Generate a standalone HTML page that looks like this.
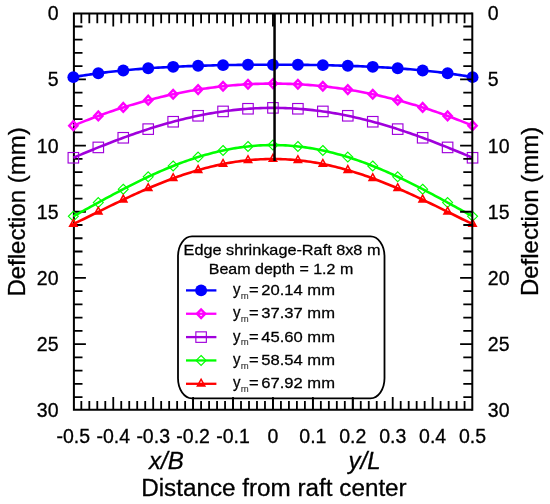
<!DOCTYPE html>
<html><head><meta charset="utf-8"><title>Deflection chart</title>
<style>html,body{margin:0;padding:0;background:#fff}body{width:550px;height:504px;position:relative;overflow:hidden}</style>
</head><body>
<svg width="550" height="504" viewBox="0 0 550 504" style="position:absolute;left:0;top:0">
<rect width="550" height="504" fill="#fff"/>
<path d="M81.33 13.40v9.8M81.33 409.80v-8.9M89.32 13.40v9.8M89.32 409.80v-8.9M97.30 13.40v9.8M97.30 409.80v-8.9M105.29 13.40v9.8M105.29 409.80v-8.9M113.27 13.40v13.0M113.27 409.80v-12.8M121.25 13.40v9.8M121.25 409.80v-8.9M129.24 13.40v9.8M129.24 409.80v-8.9M137.22 13.40v9.8M137.22 409.80v-8.9M145.21 13.40v9.8M145.21 409.80v-8.9M153.19 13.40v13.0M153.19 409.80v-12.8M161.17 13.40v9.8M161.17 409.80v-8.9M169.16 13.40v9.8M169.16 409.80v-8.9M177.14 13.40v9.8M177.14 409.80v-8.9M185.13 13.40v9.8M185.13 409.80v-8.9M193.11 13.40v13.0M193.11 409.80v-12.8M201.09 13.40v9.8M201.09 409.80v-8.9M209.08 13.40v9.8M209.08 409.80v-8.9M217.06 13.40v9.8M217.06 409.80v-8.9M225.05 13.40v9.8M225.05 409.80v-8.9M233.03 13.40v13.0M233.03 409.80v-12.8M241.01 13.40v9.8M241.01 409.80v-8.9M249.00 13.40v9.8M249.00 409.80v-8.9M256.98 13.40v9.8M256.98 409.80v-8.9M264.97 13.40v9.8M264.97 409.80v-8.9M272.95 13.40v13.0M272.95 409.80v-12.8M280.93 13.40v9.8M280.93 409.80v-8.9M288.92 13.40v9.8M288.92 409.80v-8.9M296.90 13.40v9.8M296.90 409.80v-8.9M304.89 13.40v9.8M304.89 409.80v-8.9M312.87 13.40v13.0M312.87 409.80v-12.8M320.85 13.40v9.8M320.85 409.80v-8.9M328.84 13.40v9.8M328.84 409.80v-8.9M336.82 13.40v9.8M336.82 409.80v-8.9M344.81 13.40v9.8M344.81 409.80v-8.9M352.79 13.40v13.0M352.79 409.80v-12.8M360.77 13.40v9.8M360.77 409.80v-8.9M368.76 13.40v9.8M368.76 409.80v-8.9M376.74 13.40v9.8M376.74 409.80v-8.9M384.73 13.40v9.8M384.73 409.80v-8.9M392.71 13.40v13.0M392.71 409.80v-12.8M400.69 13.40v9.8M400.69 409.80v-8.9M408.68 13.40v9.8M408.68 409.80v-8.9M416.66 13.40v9.8M416.66 409.80v-8.9M424.65 13.40v9.8M424.65 409.80v-8.9M432.63 13.40v13.0M432.63 409.80v-12.8M440.61 13.40v9.8M440.61 409.80v-8.9M448.60 13.40v9.8M448.60 409.80v-8.9M456.58 13.40v9.8M456.58 409.80v-8.9M464.57 13.40v9.8M464.57 409.80v-8.9M73.90 26.48h8.6M73.90 39.72h8.6M73.90 52.95h8.6M73.90 66.19h8.6M73.90 79.42h12.0M73.90 92.66h8.6M73.90 105.89h8.6M73.90 119.13h8.6M73.90 132.37h8.6M73.90 145.60h12.0M73.90 158.83h8.6M73.90 172.07h8.6M73.90 185.31h8.6M73.90 198.54h8.6M73.90 211.77h12.0M73.90 225.01h8.6M73.90 238.25h8.6M73.90 251.48h8.6M73.90 264.71h8.6M73.90 277.95h12.0M73.90 291.19h8.6M73.90 304.42h8.6M73.90 317.65h8.6M73.90 330.89h8.6M73.90 344.12h12.0M73.90 357.36h8.6M73.90 370.59h8.6M73.90 383.83h8.6M73.90 397.06h8.6" stroke="#000" stroke-width="1.8" fill="none"/>
<path d="M472.30 13.40H73.90V409.80H472.30" fill="none" stroke="#000" stroke-width="2"/>
<polyline points="73.35,77.16 75.84,76.73 78.34,76.30 80.83,75.89 83.33,75.49 85.82,75.10 88.32,74.72 90.81,74.35 93.31,73.99 95.81,73.64 98.30,73.31 100.79,72.98 103.29,72.66 105.78,72.35 108.28,72.05 110.78,71.76 113.27,71.47 115.76,71.20 118.26,70.93 120.75,70.68 123.25,70.43 125.74,70.18 128.24,69.95 130.74,69.72 133.23,69.50 135.72,69.29 138.22,69.08 140.72,68.88 143.21,68.69 145.70,68.50 148.20,68.32 150.69,68.15 153.19,67.98 155.69,67.82 158.18,67.66 160.68,67.51 163.17,67.37 165.66,67.22 168.16,67.09 170.66,66.96 173.15,66.83 175.65,66.71 178.14,66.59 180.63,66.48 183.13,66.37 185.62,66.27 188.12,66.17 190.62,66.08 193.11,65.98 195.61,65.90 198.10,65.81 200.59,65.73 203.09,65.66 205.59,65.58 208.08,65.51 210.57,65.45 213.07,65.38 215.56,65.32 218.06,65.27 220.56,65.21 223.05,65.16 225.55,65.11 228.04,65.07 230.54,65.03 233.03,64.99 235.52,64.95 238.02,64.91 240.51,64.88 243.01,64.85 245.50,64.83 248.00,64.80 250.50,64.78 252.99,64.76 255.49,64.74 257.98,64.73 260.47,64.72 262.97,64.71 265.46,64.70 267.96,64.69 270.45,64.69 272.95,64.69 275.44,64.69 277.94,64.69 280.44,64.70 282.93,64.71 285.43,64.72 287.92,64.73 290.42,64.74 292.91,64.76 295.40,64.78 297.90,64.80 300.39,64.83 302.89,64.85 305.38,64.88 307.88,64.91 310.38,64.95 312.87,64.99 315.37,65.03 317.86,65.07 320.36,65.11 322.85,65.16 325.35,65.21 327.84,65.27 330.34,65.32 332.83,65.38 335.32,65.45 337.82,65.51 340.31,65.58 342.81,65.66 345.31,65.73 347.80,65.81 350.30,65.90 352.79,65.98 355.29,66.08 357.78,66.17 360.27,66.27 362.77,66.37 365.26,66.48 367.76,66.59 370.25,66.71 372.75,66.83 375.25,66.96 377.74,67.09 380.24,67.22 382.73,67.37 385.22,67.51 387.72,67.66 390.22,67.82 392.71,67.98 395.20,68.15 397.70,68.32 400.20,68.50 402.69,68.69 405.19,68.88 407.68,69.08 410.17,69.29 412.67,69.50 415.17,69.72 417.66,69.95 420.15,70.18 422.65,70.43 425.14,70.68 427.64,70.93 430.13,71.20 432.63,71.47 435.12,71.76 437.62,72.05 440.12,72.35 442.61,72.66 445.11,72.98 447.60,73.31 450.10,73.64 452.59,73.99 455.09,74.35 457.58,74.72 460.07,75.10 462.57,75.49 465.06,75.89 467.56,76.30 470.05,76.73 472.55,77.16" fill="none" stroke="#0000ff" stroke-width="2.6"/>
<polyline points="73.35,125.66 75.84,124.64 78.34,123.62 80.83,122.62 83.33,121.62 85.82,120.64 88.32,119.68 90.81,118.72 93.31,117.78 95.81,116.85 98.30,115.93 100.79,115.02 103.29,114.13 105.78,113.25 108.28,112.38 110.78,111.52 113.27,110.68 115.76,109.84 118.26,109.03 120.75,108.22 123.25,107.43 125.74,106.64 128.24,105.88 130.74,105.12 133.23,104.38 135.72,103.65 138.22,102.93 140.72,102.23 143.21,101.53 145.70,100.85 148.20,100.19 150.69,99.53 153.19,98.89 155.69,98.27 158.18,97.65 160.68,97.05 163.17,96.46 165.66,95.89 168.16,95.32 170.66,94.77 173.15,94.24 175.65,93.71 178.14,93.20 180.63,92.70 183.13,92.22 185.62,91.75 188.12,91.29 190.62,90.84 193.11,90.41 195.61,89.99 198.10,89.59 200.59,89.20 203.09,88.82 205.59,88.45 208.08,88.10 210.57,87.76 213.07,87.43 215.56,87.12 218.06,86.82 220.56,86.53 223.05,86.26 225.55,86.00 228.04,85.75 230.54,85.52 233.03,85.30 235.52,85.09 238.02,84.90 240.51,84.72 243.01,84.55 245.50,84.40 248.00,84.26 250.50,84.13 252.99,84.02 255.49,83.92 257.98,83.83 260.47,83.76 262.97,83.69 265.46,83.65 267.96,83.61 270.45,83.59 272.95,83.59 275.44,83.59 277.94,83.61 280.44,83.65 282.93,83.69 285.43,83.76 287.92,83.83 290.42,83.92 292.91,84.02 295.40,84.13 297.90,84.26 300.39,84.40 302.89,84.55 305.38,84.72 307.88,84.90 310.38,85.09 312.87,85.30 315.37,85.52 317.86,85.75 320.36,86.00 322.85,86.26 325.35,86.53 327.84,86.82 330.34,87.12 332.83,87.43 335.32,87.76 337.82,88.10 340.31,88.45 342.81,88.82 345.31,89.20 347.80,89.59 350.30,89.99 352.79,90.41 355.29,90.84 357.78,91.29 360.27,91.75 362.77,92.22 365.26,92.70 367.76,93.20 370.25,93.71 372.75,94.24 375.25,94.77 377.74,95.32 380.24,95.89 382.73,96.46 385.22,97.05 387.72,97.65 390.22,98.27 392.71,98.89 395.20,99.53 397.70,100.19 400.20,100.85 402.69,101.53 405.19,102.23 407.68,102.93 410.17,103.65 412.67,104.38 415.17,105.12 417.66,105.88 420.15,106.64 422.65,107.43 425.14,108.22 427.64,109.03 430.13,109.84 432.63,110.68 435.12,111.52 437.62,112.38 440.12,113.25 442.61,114.13 445.11,115.02 447.60,115.93 450.10,116.85 452.59,117.78 455.09,118.72 457.58,119.68 460.07,120.64 462.57,121.62 465.06,122.62 467.56,123.62 470.05,124.64 472.55,125.66" fill="none" stroke="#ff00ff" stroke-width="2.6"/>
<polyline points="73.35,157.77 75.84,156.71 78.34,155.66 80.83,154.61 83.33,153.56 85.82,152.52 88.32,151.49 90.81,150.46 93.31,149.44 95.81,148.42 98.30,147.41 100.79,146.41 103.29,145.42 105.78,144.43 108.28,143.45 110.78,142.48 113.27,141.52 115.76,140.57 118.26,139.63 120.75,138.70 123.25,137.77 125.74,136.86 128.24,135.96 130.74,135.06 133.23,134.18 135.72,133.31 138.22,132.45 140.72,131.61 143.21,130.77 145.70,129.95 148.20,129.13 150.69,128.34 153.19,127.55 155.69,126.78 158.18,126.02 160.68,125.27 163.17,124.54 165.66,123.82 168.16,123.11 170.66,122.42 173.15,121.74 175.65,121.08 178.14,120.43 180.63,119.79 183.13,119.18 185.62,118.57 188.12,117.98 190.62,117.41 193.11,116.85 195.61,116.31 198.10,115.78 200.59,115.27 203.09,114.78 205.59,114.30 208.08,113.84 210.57,113.40 213.07,112.97 215.56,112.55 218.06,112.16 220.56,111.78 223.05,111.42 225.55,111.08 228.04,110.75 230.54,110.44 233.03,110.15 235.52,109.87 238.02,109.61 240.51,109.37 243.01,109.15 245.50,108.95 248.00,108.76 250.50,108.59 252.99,108.44 255.49,108.30 257.98,108.19 260.47,108.09 262.97,108.01 265.46,107.94 267.96,107.90 270.45,107.87 272.95,107.86 275.44,107.87 277.94,107.90 280.44,107.94 282.93,108.01 285.43,108.09 287.92,108.19 290.42,108.30 292.91,108.44 295.40,108.59 297.90,108.76 300.39,108.95 302.89,109.15 305.38,109.37 307.88,109.61 310.38,109.87 312.87,110.15 315.37,110.44 317.86,110.75 320.36,111.08 322.85,111.42 325.35,111.78 327.84,112.16 330.34,112.55 332.83,112.97 335.32,113.40 337.82,113.84 340.31,114.30 342.81,114.78 345.31,115.27 347.80,115.78 350.30,116.31 352.79,116.85 355.29,117.41 357.78,117.98 360.27,118.57 362.77,119.18 365.26,119.79 367.76,120.43 370.25,121.08 372.75,121.74 375.25,122.42 377.74,123.11 380.24,123.82 382.73,124.54 385.22,125.27 387.72,126.02 390.22,126.78 392.71,127.55 395.20,128.34 397.70,129.13 400.20,129.95 402.69,130.77 405.19,131.61 407.68,132.45 410.17,133.31 412.67,134.18 415.17,135.06 417.66,135.96 420.15,136.86 422.65,137.77 425.14,138.70 427.64,139.63 430.13,140.57 432.63,141.52 435.12,142.48 437.62,143.45 440.12,144.43 442.61,145.42 445.11,146.41 447.60,147.41 450.10,148.42 452.59,149.44 455.09,150.46 457.58,151.49 460.07,152.52 462.57,153.56 465.06,154.61 467.56,155.66 470.05,156.71 472.55,157.77" fill="none" stroke="#a000dc" stroke-width="2.6"/>
<polyline points="73.35,216.29 75.84,214.92 78.34,213.55 80.83,212.17 83.33,210.79 85.82,209.42 88.32,208.04 90.81,206.66 93.31,205.29 95.81,203.92 98.30,202.55 100.79,201.19 103.29,199.83 105.78,198.47 108.28,197.12 110.78,195.78 113.27,194.44 115.76,193.11 118.26,191.79 120.75,190.48 123.25,189.18 125.74,187.89 128.24,186.61 130.74,185.34 133.23,184.08 135.72,182.83 138.22,181.60 140.72,180.38 143.21,179.17 145.70,177.98 148.20,176.80 150.69,175.64 153.19,174.50 155.69,173.37 158.18,172.25 160.68,171.16 163.17,170.08 165.66,169.02 168.16,167.98 170.66,166.96 173.15,165.95 175.65,164.97 178.14,164.01 180.63,163.06 183.13,162.14 185.62,161.24 188.12,160.36 190.62,159.50 193.11,158.67 195.61,157.85 198.10,157.06 200.59,156.30 203.09,155.55 205.59,154.83 208.08,154.14 210.57,153.46 213.07,152.82 215.56,152.19 218.06,151.59 220.56,151.02 223.05,150.47 225.55,149.95 228.04,149.45 230.54,148.98 233.03,148.54 235.52,148.12 238.02,147.73 240.51,147.36 243.01,147.02 245.50,146.71 248.00,146.42 250.50,146.16 252.99,145.93 255.49,145.73 257.98,145.55 260.47,145.40 262.97,145.27 265.46,145.18 267.96,145.11 270.45,145.07 272.95,145.05 275.44,145.07 277.94,145.11 280.44,145.18 282.93,145.27 285.43,145.40 287.92,145.55 290.42,145.73 292.91,145.93 295.40,146.16 297.90,146.42 300.39,146.71 302.89,147.02 305.38,147.36 307.88,147.73 310.38,148.12 312.87,148.54 315.37,148.98 317.86,149.45 320.36,149.95 322.85,150.47 325.35,151.02 327.84,151.59 330.34,152.19 332.83,152.82 335.32,153.46 337.82,154.14 340.31,154.83 342.81,155.55 345.31,156.30 347.80,157.06 350.30,157.85 352.79,158.67 355.29,159.50 357.78,160.36 360.27,161.24 362.77,162.14 365.26,163.06 367.76,164.01 370.25,164.97 372.75,165.95 375.25,166.96 377.74,167.98 380.24,169.02 382.73,170.08 385.22,171.16 387.72,172.25 390.22,173.37 392.71,174.50 395.20,175.64 397.70,176.80 400.20,177.98 402.69,179.17 405.19,180.38 407.68,181.60 410.17,182.83 412.67,184.08 415.17,185.34 417.66,186.61 420.15,187.89 422.65,189.18 425.14,190.48 427.64,191.79 430.13,193.11 432.63,194.44 435.12,195.78 437.62,197.12 440.12,198.47 442.61,199.83 445.11,201.19 447.60,202.55 450.10,203.92 452.59,205.29 455.09,206.66 457.58,208.04 460.07,209.42 462.57,210.79 465.06,212.17 467.56,213.55 470.05,214.92 472.55,216.29" fill="none" stroke="#00ff00" stroke-width="2.6"/>
<polyline points="73.35,224.10 75.84,222.88 78.34,221.66 80.83,220.44 83.33,219.21 85.82,217.98 88.32,216.74 90.81,215.51 93.31,214.28 95.81,213.04 98.30,211.81 100.79,210.58 103.29,209.35 105.78,208.13 108.28,206.90 110.78,205.69 113.27,204.47 115.76,203.27 118.26,202.07 120.75,200.87 123.25,199.69 125.74,198.51 128.24,197.34 130.74,196.18 133.23,195.03 135.72,193.89 138.22,192.76 140.72,191.64 143.21,190.53 145.70,189.44 148.20,188.36 150.69,187.29 153.19,186.24 155.69,185.20 158.18,184.18 160.68,183.17 163.17,182.17 165.66,181.20 168.16,180.23 170.66,179.29 173.15,178.36 175.65,177.46 178.14,176.56 180.63,175.69 183.13,174.84 185.62,174.01 188.12,173.19 190.62,172.40 193.11,171.62 195.61,170.87 198.10,170.14 200.59,169.42 203.09,168.73 205.59,168.07 208.08,167.42 210.57,166.79 213.07,166.19 215.56,165.61 218.06,165.06 220.56,164.53 223.05,164.02 225.55,163.53 228.04,163.07 230.54,162.63 233.03,162.22 235.52,161.83 238.02,161.46 240.51,161.12 243.01,160.80 245.50,160.51 248.00,160.25 250.50,160.01 252.99,159.79 255.49,159.60 257.98,159.43 260.47,159.29 262.97,159.18 265.46,159.09 267.96,159.03 270.45,158.99 272.95,158.97 275.44,158.99 277.94,159.03 280.44,159.09 282.93,159.18 285.43,159.29 287.92,159.43 290.42,159.60 292.91,159.79 295.40,160.01 297.90,160.25 300.39,160.51 302.89,160.80 305.38,161.12 307.88,161.46 310.38,161.83 312.87,162.22 315.37,162.63 317.86,163.07 320.36,163.53 322.85,164.02 325.35,164.53 327.84,165.06 330.34,165.61 332.83,166.19 335.32,166.79 337.82,167.42 340.31,168.07 342.81,168.73 345.31,169.42 347.80,170.14 350.30,170.87 352.79,171.62 355.29,172.40 357.78,173.19 360.27,174.01 362.77,174.84 365.26,175.69 367.76,176.56 370.25,177.46 372.75,178.36 375.25,179.29 377.74,180.23 380.24,181.20 382.73,182.17 385.22,183.17 387.72,184.18 390.22,185.20 392.71,186.24 395.20,187.29 397.70,188.36 400.20,189.44 402.69,190.53 405.19,191.64 407.68,192.76 410.17,193.89 412.67,195.03 415.17,196.18 417.66,197.34 420.15,198.51 422.65,199.69 425.14,200.87 427.64,202.07 430.13,203.27 432.63,204.47 435.12,205.69 437.62,206.90 440.12,208.13 442.61,209.35 445.11,210.58 447.60,211.81 450.10,213.04 452.59,214.28 455.09,215.51 457.58,216.74 460.07,217.98 462.57,219.21 465.06,220.44 467.56,221.66 470.05,222.88 472.55,224.10" fill="none" stroke="#ff0000" stroke-width="2.6"/>
<circle cx="73.35" cy="77.16" r="5.95" fill="#0000ff"/><circle cx="98.30" cy="73.31" r="5.95" fill="#0000ff"/><circle cx="123.25" cy="70.43" r="5.95" fill="#0000ff"/><circle cx="148.20" cy="68.32" r="5.95" fill="#0000ff"/><circle cx="173.15" cy="66.83" r="5.95" fill="#0000ff"/><circle cx="198.10" cy="65.81" r="5.95" fill="#0000ff"/><circle cx="223.05" cy="65.16" r="5.95" fill="#0000ff"/><circle cx="248.00" cy="64.80" r="5.95" fill="#0000ff"/><circle cx="272.95" cy="64.69" r="5.95" fill="#0000ff"/><circle cx="297.90" cy="64.80" r="5.95" fill="#0000ff"/><circle cx="322.85" cy="65.16" r="5.95" fill="#0000ff"/><circle cx="347.80" cy="65.81" r="5.95" fill="#0000ff"/><circle cx="372.75" cy="66.83" r="5.95" fill="#0000ff"/><circle cx="397.70" cy="68.32" r="5.95" fill="#0000ff"/><circle cx="422.65" cy="70.43" r="5.95" fill="#0000ff"/><circle cx="447.60" cy="73.31" r="5.95" fill="#0000ff"/><circle cx="472.55" cy="77.16" r="5.95" fill="#0000ff"/><path d="M73.35 119.56L79.15 125.66L73.35 131.76L67.55 125.66ZM73.35 123.06L75.75 125.66L73.35 128.26L70.95 125.66Z" fill="#ff00ff" fill-rule="evenodd"/><path d="M98.30 109.83L104.10 115.93L98.30 122.03L92.50 115.93ZM98.30 113.33L100.70 115.93L98.30 118.53L95.90 115.93Z" fill="#ff00ff" fill-rule="evenodd"/><path d="M123.25 101.33L129.05 107.43L123.25 113.53L117.45 107.43ZM123.25 104.83L125.65 107.43L123.25 110.03L120.85 107.43Z" fill="#ff00ff" fill-rule="evenodd"/><path d="M148.20 94.09L154.00 100.19L148.20 106.29L142.40 100.19ZM148.20 97.59L150.60 100.19L148.20 102.79L145.80 100.19Z" fill="#ff00ff" fill-rule="evenodd"/><path d="M173.15 88.14L178.95 94.24L173.15 100.34L167.35 94.24ZM173.15 91.64L175.55 94.24L173.15 96.84L170.75 94.24Z" fill="#ff00ff" fill-rule="evenodd"/><path d="M198.10 83.49L203.90 89.59L198.10 95.69L192.30 89.59ZM198.10 86.99L200.50 89.59L198.10 92.19L195.70 89.59Z" fill="#ff00ff" fill-rule="evenodd"/><path d="M223.05 80.16L228.85 86.26L223.05 92.36L217.25 86.26ZM223.05 83.66L225.45 86.26L223.05 88.86L220.65 86.26Z" fill="#ff00ff" fill-rule="evenodd"/><path d="M248.00 78.16L253.80 84.26L248.00 90.36L242.20 84.26ZM248.00 81.66L250.40 84.26L248.00 86.86L245.60 84.26Z" fill="#ff00ff" fill-rule="evenodd"/><path d="M272.95 77.49L278.75 83.59L272.95 89.69L267.15 83.59ZM272.95 80.99L275.35 83.59L272.95 86.19L270.55 83.59Z" fill="#ff00ff" fill-rule="evenodd"/><path d="M297.90 78.16L303.70 84.26L297.90 90.36L292.10 84.26ZM297.90 81.66L300.30 84.26L297.90 86.86L295.50 84.26Z" fill="#ff00ff" fill-rule="evenodd"/><path d="M322.85 80.16L328.65 86.26L322.85 92.36L317.05 86.26ZM322.85 83.66L325.25 86.26L322.85 88.86L320.45 86.26Z" fill="#ff00ff" fill-rule="evenodd"/><path d="M347.80 83.49L353.60 89.59L347.80 95.69L342.00 89.59ZM347.80 86.99L350.20 89.59L347.80 92.19L345.40 89.59Z" fill="#ff00ff" fill-rule="evenodd"/><path d="M372.75 88.14L378.55 94.24L372.75 100.34L366.95 94.24ZM372.75 91.64L375.15 94.24L372.75 96.84L370.35 94.24Z" fill="#ff00ff" fill-rule="evenodd"/><path d="M397.70 94.09L403.50 100.19L397.70 106.29L391.90 100.19ZM397.70 97.59L400.10 100.19L397.70 102.79L395.30 100.19Z" fill="#ff00ff" fill-rule="evenodd"/><path d="M422.65 101.33L428.45 107.43L422.65 113.53L416.85 107.43ZM422.65 104.83L425.05 107.43L422.65 110.03L420.25 107.43Z" fill="#ff00ff" fill-rule="evenodd"/><path d="M447.60 109.83L453.40 115.93L447.60 122.03L441.80 115.93ZM447.60 113.33L450.00 115.93L447.60 118.53L445.20 115.93Z" fill="#ff00ff" fill-rule="evenodd"/><path d="M472.55 119.56L478.35 125.66L472.55 131.76L466.75 125.66ZM472.55 123.06L474.95 125.66L472.55 128.26L470.15 125.66Z" fill="#ff00ff" fill-rule="evenodd"/><rect x="68.10" y="152.52" width="10.5" height="10.5" fill="none" stroke="#a000dc" stroke-width="1.15"/><rect x="93.05" y="142.16" width="10.5" height="10.5" fill="none" stroke="#a000dc" stroke-width="1.15"/><rect x="118.00" y="132.52" width="10.5" height="10.5" fill="none" stroke="#a000dc" stroke-width="1.15"/><rect x="142.95" y="123.88" width="10.5" height="10.5" fill="none" stroke="#a000dc" stroke-width="1.15"/><rect x="167.90" y="116.49" width="10.5" height="10.5" fill="none" stroke="#a000dc" stroke-width="1.15"/><rect x="192.85" y="110.53" width="10.5" height="10.5" fill="none" stroke="#a000dc" stroke-width="1.15"/><rect x="217.80" y="106.17" width="10.5" height="10.5" fill="none" stroke="#a000dc" stroke-width="1.15"/><rect x="242.75" y="103.51" width="10.5" height="10.5" fill="none" stroke="#a000dc" stroke-width="1.15"/><rect x="267.70" y="102.61" width="10.5" height="10.5" fill="none" stroke="#a000dc" stroke-width="1.15"/><rect x="292.65" y="103.51" width="10.5" height="10.5" fill="none" stroke="#a000dc" stroke-width="1.15"/><rect x="317.60" y="106.17" width="10.5" height="10.5" fill="none" stroke="#a000dc" stroke-width="1.15"/><rect x="342.55" y="110.53" width="10.5" height="10.5" fill="none" stroke="#a000dc" stroke-width="1.15"/><rect x="367.50" y="116.49" width="10.5" height="10.5" fill="none" stroke="#a000dc" stroke-width="1.15"/><rect x="392.45" y="123.88" width="10.5" height="10.5" fill="none" stroke="#a000dc" stroke-width="1.15"/><rect x="417.40" y="132.52" width="10.5" height="10.5" fill="none" stroke="#a000dc" stroke-width="1.15"/><rect x="442.35" y="142.16" width="10.5" height="10.5" fill="none" stroke="#a000dc" stroke-width="1.15"/><rect x="467.30" y="152.52" width="10.5" height="10.5" fill="none" stroke="#a000dc" stroke-width="1.15"/><path d="M73.35 211.34L78.30 216.29L73.35 221.24L68.40 216.29Z" fill="none" stroke="#00ff00" stroke-width="1.15"/><path d="M98.30 197.60L103.25 202.55L98.30 207.50L93.35 202.55Z" fill="none" stroke="#00ff00" stroke-width="1.15"/><path d="M123.25 184.23L128.20 189.18L123.25 194.13L118.30 189.18Z" fill="none" stroke="#00ff00" stroke-width="1.15"/><path d="M148.20 171.85L153.15 176.80L148.20 181.75L143.25 176.80Z" fill="none" stroke="#00ff00" stroke-width="1.15"/><path d="M173.15 161.00L178.10 165.95L173.15 170.90L168.20 165.95Z" fill="none" stroke="#00ff00" stroke-width="1.15"/><path d="M198.10 152.11L203.05 157.06L198.10 162.01L193.15 157.06Z" fill="none" stroke="#00ff00" stroke-width="1.15"/><path d="M223.05 145.52L228.00 150.47L223.05 155.42L218.10 150.47Z" fill="none" stroke="#00ff00" stroke-width="1.15"/><path d="M248.00 141.47L252.95 146.42L248.00 151.37L243.05 146.42Z" fill="none" stroke="#00ff00" stroke-width="1.15"/><path d="M272.95 140.10L277.90 145.05L272.95 150.00L268.00 145.05Z" fill="none" stroke="#00ff00" stroke-width="1.15"/><path d="M297.90 141.47L302.85 146.42L297.90 151.37L292.95 146.42Z" fill="none" stroke="#00ff00" stroke-width="1.15"/><path d="M322.85 145.52L327.80 150.47L322.85 155.42L317.90 150.47Z" fill="none" stroke="#00ff00" stroke-width="1.15"/><path d="M347.80 152.11L352.75 157.06L347.80 162.01L342.85 157.06Z" fill="none" stroke="#00ff00" stroke-width="1.15"/><path d="M372.75 161.00L377.70 165.95L372.75 170.90L367.80 165.95Z" fill="none" stroke="#00ff00" stroke-width="1.15"/><path d="M397.70 171.85L402.65 176.80L397.70 181.75L392.75 176.80Z" fill="none" stroke="#00ff00" stroke-width="1.15"/><path d="M422.65 184.23L427.60 189.18L422.65 194.13L417.70 189.18Z" fill="none" stroke="#00ff00" stroke-width="1.15"/><path d="M447.60 197.60L452.55 202.55L447.60 207.50L442.65 202.55Z" fill="none" stroke="#00ff00" stroke-width="1.15"/><path d="M472.55 211.34L477.50 216.29L472.55 221.24L467.60 216.29Z" fill="none" stroke="#00ff00" stroke-width="1.15"/><path d="M73.35 218.00L78.35 227.10L68.35 227.10ZM73.35 221.10L74.45 223.30L72.25 223.30Z" fill="#ff0000" fill-rule="evenodd"/><path d="M98.30 205.71L103.30 214.81L93.30 214.81ZM98.30 208.81L99.40 211.01L97.20 211.01Z" fill="#ff0000" fill-rule="evenodd"/><path d="M123.25 193.59L128.25 202.69L118.25 202.69ZM123.25 196.69L124.35 198.89L122.15 198.89Z" fill="#ff0000" fill-rule="evenodd"/><path d="M148.20 182.26L153.20 191.36L143.20 191.36ZM148.20 185.36L149.30 187.56L147.10 187.56Z" fill="#ff0000" fill-rule="evenodd"/><path d="M173.15 172.26L178.15 181.36L168.15 181.36ZM173.15 175.36L174.25 177.56L172.05 177.56Z" fill="#ff0000" fill-rule="evenodd"/><path d="M198.10 164.04L203.10 173.14L193.10 173.14ZM198.10 167.14L199.20 169.34L197.00 169.34Z" fill="#ff0000" fill-rule="evenodd"/><path d="M223.05 157.92L228.05 167.02L218.05 167.02ZM223.05 161.02L224.15 163.22L221.95 163.22Z" fill="#ff0000" fill-rule="evenodd"/><path d="M248.00 154.15L253.00 163.25L243.00 163.25ZM248.00 157.25L249.10 159.45L246.90 159.45Z" fill="#ff0000" fill-rule="evenodd"/><path d="M272.95 152.87L277.95 161.97L267.95 161.97ZM272.95 155.97L274.05 158.17L271.85 158.17Z" fill="#ff0000" fill-rule="evenodd"/><path d="M297.90 154.15L302.90 163.25L292.90 163.25ZM297.90 157.25L299.00 159.45L296.80 159.45Z" fill="#ff0000" fill-rule="evenodd"/><path d="M322.85 157.92L327.85 167.02L317.85 167.02ZM322.85 161.02L323.95 163.22L321.75 163.22Z" fill="#ff0000" fill-rule="evenodd"/><path d="M347.80 164.04L352.80 173.14L342.80 173.14ZM347.80 167.14L348.90 169.34L346.70 169.34Z" fill="#ff0000" fill-rule="evenodd"/><path d="M372.75 172.26L377.75 181.36L367.75 181.36ZM372.75 175.36L373.85 177.56L371.65 177.56Z" fill="#ff0000" fill-rule="evenodd"/><path d="M397.70 182.26L402.70 191.36L392.70 191.36ZM397.70 185.36L398.80 187.56L396.60 187.56Z" fill="#ff0000" fill-rule="evenodd"/><path d="M422.65 193.59L427.65 202.69L417.65 202.69ZM422.65 196.69L423.75 198.89L421.55 198.89Z" fill="#ff0000" fill-rule="evenodd"/><path d="M447.60 205.71L452.60 214.81L442.60 214.81ZM447.60 208.81L448.70 211.01L446.50 211.01Z" fill="#ff0000" fill-rule="evenodd"/><path d="M472.55 218.00L477.55 227.10L467.55 227.10ZM472.55 221.10L473.65 223.30L471.45 223.30Z" fill="#ff0000" fill-rule="evenodd"/>
<path d="M472.30 26.48h-9.0M472.30 39.72h-9.0M472.30 52.95h-9.0M472.30 66.19h-9.0M472.30 79.42h-12.2M472.30 92.66h-9.0M472.30 105.89h-9.0M472.30 119.13h-9.0M472.30 132.37h-9.0M472.30 145.60h-12.2M472.30 158.83h-9.0M472.30 172.07h-9.0M472.30 185.31h-9.0M472.30 198.54h-9.0M472.30 211.77h-12.2M472.30 225.01h-9.0M472.30 238.25h-9.0M472.30 251.48h-9.0M472.30 264.71h-9.0M472.30 277.95h-12.2M472.30 291.19h-9.0M472.30 304.42h-9.0M472.30 317.65h-9.0M472.30 330.89h-9.0M472.30 344.12h-12.2M472.30 357.36h-9.0M472.30 370.59h-9.0M472.30 383.83h-9.0M472.30 397.06h-9.0" stroke="#000" stroke-width="1.8" fill="none"/>
<path d="M472.30 12.40V410.80" stroke="#000" stroke-width="2"/>
<path d="M274.55 13.40V161" stroke="#000" stroke-width="2.5"/>
<rect x="178.0" y="236.3" width="206.5" height="162.0" rx="14" ry="20" fill="#fff" stroke="#000" stroke-width="1.8"/>
<path d="M193.11 409.80v-12.8" stroke="#000" stroke-width="1.8"/><path d="M233.03 409.80v-12.8" stroke="#000" stroke-width="1.8"/><path d="M272.95 409.80v-12.8" stroke="#000" stroke-width="1.8"/><path d="M312.87 409.80v-12.8" stroke="#000" stroke-width="1.8"/><path d="M352.79 409.80v-12.8" stroke="#000" stroke-width="1.8"/>
<text transform="translate(282.0 255.0) scale(1 0.92)" font-family="Liberation Sans, Arial, sans-serif" stroke="#000" stroke-width="0.3" font-size="16.25" text-anchor="middle">Edge shrinkage-Raft 8x8 m</text>
<text transform="translate(281.0 273.8) scale(1 0.93)" font-family="Liberation Sans, Arial, sans-serif" stroke="#000" stroke-width="0.3" font-size="16" text-anchor="middle">Beam depth = 1.2 m</text>
<path d="M186 290.40H216.4" stroke="#0000ff" stroke-width="2.3"/>
<circle cx="201.10" cy="290.40" r="5.95" fill="#0000ff"/>
<text transform="translate(232.9 294.90) scale(1 1.1)" font-family="Liberation Sans, Arial, sans-serif" stroke="#000" stroke-width="0.3" font-size="15">y</text>
<text x="240.7" y="298.60" font-family="Liberation Sans, Arial, sans-serif" font-size="9.5" fill="#444" stroke="#444" stroke-width="0.2">m</text>
<text transform="translate(249.0 294.90) scale(1 0.9)" font-family="Liberation Sans, Arial, sans-serif" stroke="#000" stroke-width="0.3" font-size="16.6">=</text>
<text transform="translate(261.2 294.90) scale(1 0.9)" font-family="Liberation Sans, Arial, sans-serif" stroke="#000" stroke-width="0.3" font-size="16.6">20.14 mm</text>
<path d="M186 313.75H216.4" stroke="#ff00ff" stroke-width="2.3"/>
<path d="M201.10 307.65L206.90 313.75L201.10 319.85L195.30 313.75ZM201.10 311.15L203.50 313.75L201.10 316.35L198.70 313.75Z" fill="#ff00ff" fill-rule="evenodd"/>
<text transform="translate(232.9 318.25) scale(1 1.1)" font-family="Liberation Sans, Arial, sans-serif" stroke="#000" stroke-width="0.3" font-size="15">y</text>
<text x="240.7" y="321.95" font-family="Liberation Sans, Arial, sans-serif" font-size="9.5" fill="#444" stroke="#444" stroke-width="0.2">m</text>
<text transform="translate(249.0 318.25) scale(1 0.9)" font-family="Liberation Sans, Arial, sans-serif" stroke="#000" stroke-width="0.3" font-size="16.6">=</text>
<text transform="translate(261.2 318.25) scale(1 0.9)" font-family="Liberation Sans, Arial, sans-serif" stroke="#000" stroke-width="0.3" font-size="16.6">37.37 mm</text>
<path d="M186 337.10H216.4" stroke="#a000dc" stroke-width="2.3"/>
<rect x="195.85" y="331.85" width="10.5" height="10.5" fill="none" stroke="#a000dc" stroke-width="1.15"/>
<text transform="translate(232.9 341.60) scale(1 1.1)" font-family="Liberation Sans, Arial, sans-serif" stroke="#000" stroke-width="0.3" font-size="15">y</text>
<text x="240.7" y="345.30" font-family="Liberation Sans, Arial, sans-serif" font-size="9.5" fill="#444" stroke="#444" stroke-width="0.2">m</text>
<text transform="translate(249.0 341.60) scale(1 0.9)" font-family="Liberation Sans, Arial, sans-serif" stroke="#000" stroke-width="0.3" font-size="16.6">=</text>
<text transform="translate(261.2 341.60) scale(1 0.9)" font-family="Liberation Sans, Arial, sans-serif" stroke="#000" stroke-width="0.3" font-size="16.6">45.60 mm</text>
<path d="M186 360.45H216.4" stroke="#00ff00" stroke-width="2.3"/>
<path d="M201.10 355.50L206.05 360.45L201.10 365.40L196.15 360.45Z" fill="none" stroke="#00ff00" stroke-width="1.15"/>
<text transform="translate(232.9 364.95) scale(1 1.1)" font-family="Liberation Sans, Arial, sans-serif" stroke="#000" stroke-width="0.3" font-size="15">y</text>
<text x="240.7" y="368.65" font-family="Liberation Sans, Arial, sans-serif" font-size="9.5" fill="#444" stroke="#444" stroke-width="0.2">m</text>
<text transform="translate(249.0 364.95) scale(1 0.9)" font-family="Liberation Sans, Arial, sans-serif" stroke="#000" stroke-width="0.3" font-size="16.6">=</text>
<text transform="translate(261.2 364.95) scale(1 0.9)" font-family="Liberation Sans, Arial, sans-serif" stroke="#000" stroke-width="0.3" font-size="16.6">58.54 mm</text>
<path d="M186 383.80H216.4" stroke="#ff0000" stroke-width="2.3"/>
<path d="M201.10 377.70L206.10 386.80L196.10 386.80ZM201.10 380.80L202.20 383.00L200.00 383.00Z" fill="#ff0000" fill-rule="evenodd"/>
<text transform="translate(232.9 388.30) scale(1 1.1)" font-family="Liberation Sans, Arial, sans-serif" stroke="#000" stroke-width="0.3" font-size="15">y</text>
<text x="240.7" y="392.00" font-family="Liberation Sans, Arial, sans-serif" font-size="9.5" fill="#444" stroke="#444" stroke-width="0.2">m</text>
<text transform="translate(249.0 388.30) scale(1 0.9)" font-family="Liberation Sans, Arial, sans-serif" stroke="#000" stroke-width="0.3" font-size="16.6">=</text>
<text transform="translate(261.2 388.30) scale(1 0.9)" font-family="Liberation Sans, Arial, sans-serif" stroke="#000" stroke-width="0.3" font-size="16.6">67.92 mm</text>
<text x="73.35" y="442.7" font-family="Liberation Sans, Arial, sans-serif" stroke="#000" stroke-width="0.3" font-size="19.5" text-anchor="middle">-0.5</text>
<text x="113.27" y="442.7" font-family="Liberation Sans, Arial, sans-serif" stroke="#000" stroke-width="0.3" font-size="19.5" text-anchor="middle">-0.4</text>
<text x="153.19" y="442.7" font-family="Liberation Sans, Arial, sans-serif" stroke="#000" stroke-width="0.3" font-size="19.5" text-anchor="middle">-0.3</text>
<text x="193.11" y="442.7" font-family="Liberation Sans, Arial, sans-serif" stroke="#000" stroke-width="0.3" font-size="19.5" text-anchor="middle">-0.2</text>
<text x="233.03" y="442.7" font-family="Liberation Sans, Arial, sans-serif" stroke="#000" stroke-width="0.3" font-size="19.5" text-anchor="middle">-0.1</text>
<text x="272.95" y="442.7" font-family="Liberation Sans, Arial, sans-serif" stroke="#000" stroke-width="0.3" font-size="19.5" text-anchor="middle">0</text>
<text x="312.87" y="442.7" font-family="Liberation Sans, Arial, sans-serif" stroke="#000" stroke-width="0.3" font-size="19.5" text-anchor="middle">0.1</text>
<text x="352.79" y="442.7" font-family="Liberation Sans, Arial, sans-serif" stroke="#000" stroke-width="0.3" font-size="19.5" text-anchor="middle">0.2</text>
<text x="392.71" y="442.7" font-family="Liberation Sans, Arial, sans-serif" stroke="#000" stroke-width="0.3" font-size="19.5" text-anchor="middle">0.3</text>
<text x="432.63" y="442.7" font-family="Liberation Sans, Arial, sans-serif" stroke="#000" stroke-width="0.3" font-size="19.5" text-anchor="middle">0.4</text>
<text x="472.55" y="442.7" font-family="Liberation Sans, Arial, sans-serif" stroke="#000" stroke-width="0.3" font-size="19.5" text-anchor="middle">0.5</text>
<text x="58.5" y="20.25" font-family="Liberation Sans, Arial, sans-serif" stroke="#000" stroke-width="0.3" font-size="19.5" text-anchor="end">0</text>
<text x="487.8" y="20.25" font-family="Liberation Sans, Arial, sans-serif" stroke="#000" stroke-width="0.3" font-size="19.5">0</text>
<text x="58.5" y="86.42" font-family="Liberation Sans, Arial, sans-serif" stroke="#000" stroke-width="0.3" font-size="19.5" text-anchor="end">5</text>
<text x="487.8" y="86.42" font-family="Liberation Sans, Arial, sans-serif" stroke="#000" stroke-width="0.3" font-size="19.5">5</text>
<text x="58.5" y="152.60" font-family="Liberation Sans, Arial, sans-serif" stroke="#000" stroke-width="0.3" font-size="19.5" text-anchor="end">10</text>
<text x="487.8" y="152.60" font-family="Liberation Sans, Arial, sans-serif" stroke="#000" stroke-width="0.3" font-size="19.5">10</text>
<text x="58.5" y="218.77" font-family="Liberation Sans, Arial, sans-serif" stroke="#000" stroke-width="0.3" font-size="19.5" text-anchor="end">15</text>
<text x="487.8" y="218.77" font-family="Liberation Sans, Arial, sans-serif" stroke="#000" stroke-width="0.3" font-size="19.5">15</text>
<text x="58.5" y="284.95" font-family="Liberation Sans, Arial, sans-serif" stroke="#000" stroke-width="0.3" font-size="19.5" text-anchor="end">20</text>
<text x="487.8" y="284.95" font-family="Liberation Sans, Arial, sans-serif" stroke="#000" stroke-width="0.3" font-size="19.5">20</text>
<text x="58.5" y="351.12" font-family="Liberation Sans, Arial, sans-serif" stroke="#000" stroke-width="0.3" font-size="19.5" text-anchor="end">25</text>
<text x="487.8" y="351.12" font-family="Liberation Sans, Arial, sans-serif" stroke="#000" stroke-width="0.3" font-size="19.5">25</text>
<text x="58.5" y="417.30" font-family="Liberation Sans, Arial, sans-serif" stroke="#000" stroke-width="0.3" font-size="19.5" text-anchor="end">30</text>
<text x="487.8" y="417.30" font-family="Liberation Sans, Arial, sans-serif" stroke="#000" stroke-width="0.3" font-size="19.5">30</text>
<text transform="translate(149.1 469.3) scale(1 0.96)" font-family="Liberation Sans, Arial, sans-serif" stroke="#000" stroke-width="0.3" font-size="24" font-style="italic">x/B</text>
<text transform="translate(348.6 469.3) scale(1 0.96)" font-family="Liberation Sans, Arial, sans-serif" stroke="#000" stroke-width="0.3" font-size="24" font-style="italic">y/L</text>
<text x="141.2" y="496.0" font-family="Liberation Sans, Arial, sans-serif" stroke="#000" stroke-width="0.3" font-size="24.25">Distance from raft center</text>
<text transform="translate(25.3 296.6) rotate(-90)" font-family="Liberation Sans, Arial, sans-serif" stroke="#000" stroke-width="0.3" font-size="24">Deflection (mm)</text>
<text transform="translate(537.8 296.1) rotate(-90)" font-family="Liberation Sans, Arial, sans-serif" stroke="#000" stroke-width="0.3" font-size="24">Deflection (mm)</text>
</svg>
</body></html>
